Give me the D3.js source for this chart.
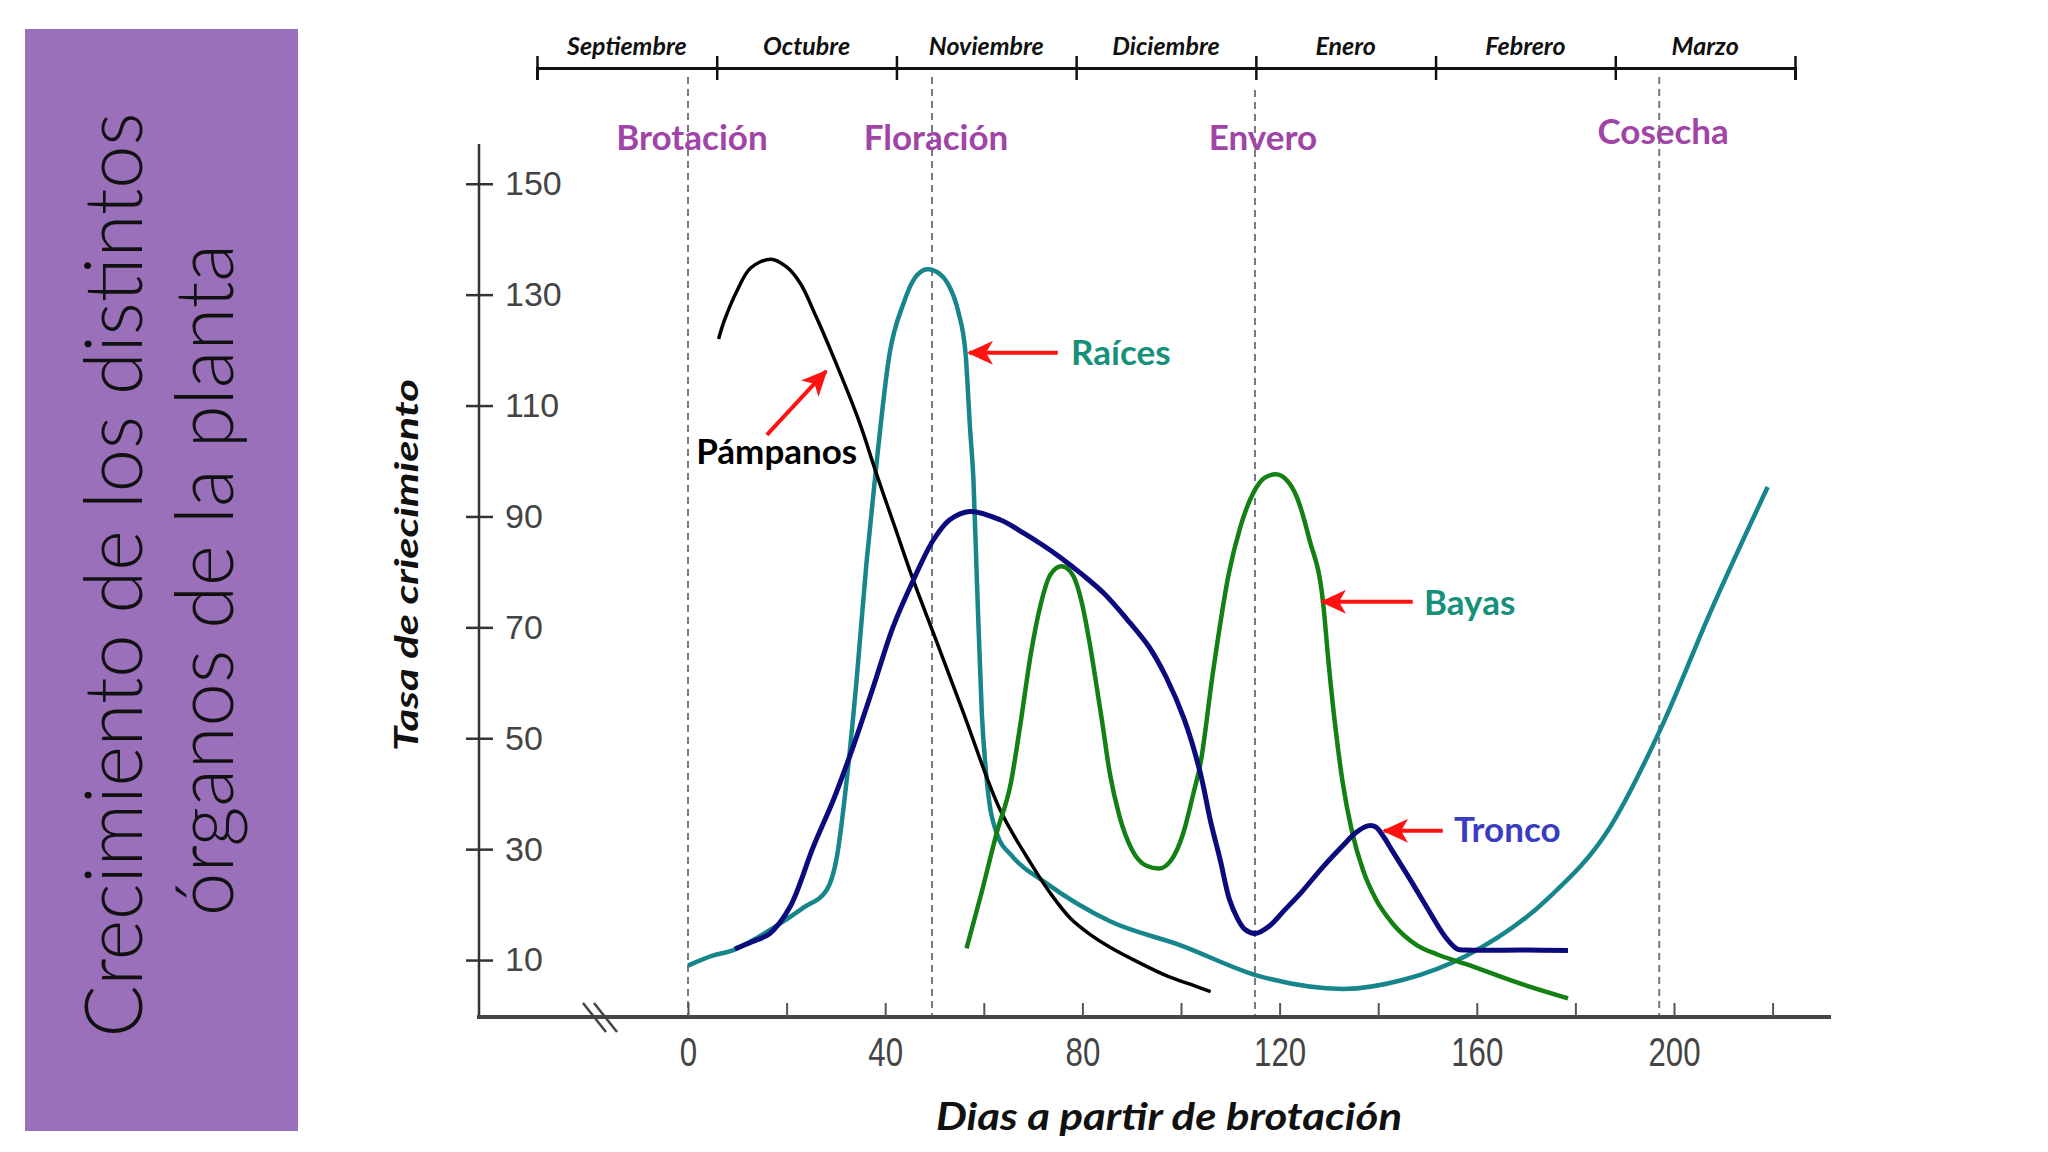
<!DOCTYPE html>
<html lang="es">
<head>
<meta charset="UTF-8">
<script src="https://d3js.org/d3.v7.min.js"></script>
<style>
  body { margin: 0; background: #fff; }
  svg { display: block; }
</style>
</head>
<body>
<script>
  // --- datos ---
  const months = ["Septiembre", "Octubre", "Noviembre", "Diciembre", "Enero", "Febrero", "Marzo"];
  const yTickValues = [10, 30, 50, 70, 90, 110, 130, 150];
  const xTickMarks = [0, 20, 40, 60, 80, 100, 120, 140, 160, 180, 200, 220];
  const xTickLabels = [0, 40, 80, 120, 160, 200];
  const phaseNames = ["Brotación", "Floración", "Envero", "Cosecha"];
  const phaseDays = [0, 49.5, 115, 197];

  // [día, tasa de crecimiento]
  const pampanos = [[6.2, 122], [7.4, 125.4], [10, 130.8], [12.7, 134.8], [16.8, 136.4], [20, 135], [22.8, 132],
    [26, 126], [29.2, 119.4], [34.6, 107.4], [38.3, 97.5], [41.8, 88.5], [45.7, 78.5], [49.8, 68.9],
    [55.9, 54.5], [63.3, 37.1], [69.7, 27.2], [73.7, 21.8], [77.6, 17.5], [81.6, 14.6],
    [85.6, 12.3], [90.9, 9.8], [97.5, 7], [102, 5.6], [106, 4.3]];
  const raices = [[0, 9], [5, 10.8], [9.2, 11.8], [14, 14], [18.7, 16.6], [23.5, 19.5], [28.1, 22.6], [30.2, 28.6],
    [32.2, 42.5], [34.2, 60.5], [36.2, 81.6], [37.9, 96.6], [40.9, 119.4], [43.7, 128.4], [46, 133], [48.6, 134.6],
    [51, 133.8], [52.7, 132], [54.8, 127], [56.3, 119.4], [57.2, 106], [57.9, 96.6], [58.6, 78.5], [59.6, 54.5],
    [60.6, 42.5], [62.6, 32.9], [65.7, 28.8], [72.3, 24.1], [85.6, 17], [99.8, 12.7], [115.5, 7.2],
    [132.9, 4.8], [145.3, 6.5], [157.7, 10.7], [174.3, 21], [186.7, 33.5], [197.5, 52.1], [207.4, 72.8], [219, 95.3]];
  const bayas = [[56.5, 12.1], [59.5, 22], [62.6, 32.9], [65.5, 42], [67.5, 53], [69.5, 65], [71.5, 74], [73.5, 79.5],
    [75.8, 81], [78, 79.5], [80, 74], [81.5, 67], [82.6, 61], [84, 53], [85.5, 44], [87.5, 36], [90, 30],
    [93, 27], [95.5, 26.5], [98, 28], [100.5, 33], [102.5, 40], [103.9, 45.2], [106.5, 62], [109.7, 79.7],
    [112, 88], [114.7, 94.3], [117, 97], [119.2, 97.6], [121.5, 96.5], [123.5, 93.5], [126, 86], [128.8, 74.6],
    [130, 63], [131.3, 52.1], [132.8, 42], [134.6, 33.5], [137, 26], [139.5, 21], [143, 16.5], [147.8, 12.7],
    [152, 11], [157.7, 9.3], [168, 6], [178.5, 3.1]];
  const tronco = [[9.5, 12], [13, 13.3], [16.6, 14.8], [20.7, 19.6], [25.4, 30.4], [29.5, 38.9], [33.5, 48.5],
    [37.6, 59.3], [41.6, 70.1], [45.7, 78.5], [49.8, 85.8], [53.1, 89.4], [57.2, 90.9], [63.3, 89.4],
    [68.1, 87], [72, 84.8], [75.4, 82.7], [80, 79.5], [84.4, 76.1], [89, 71.5], [93.5, 66.5], [97, 61],
    [100.7, 53.3], [103.9, 43.8], [106, 35], [108, 27.9], [109.8, 21], [111.4, 17.6], [113, 15.5], [115.1, 14.8],
    [118, 16.2], [121, 19], [124.6, 22.4], [128.5, 26.5], [132.9, 30.7], [135.5, 33], [137.9, 34.2], [139.5, 34],
    [141.2, 32.1], [143, 29.5], [146.5, 24.5], [150, 19.3], [153.5, 14.3], [156, 12], [158, 11.8], [170, 11.8],
    [178.5, 11.7]];

  // anotaciones (coordenadas en día / tasa)
  const annotLabels = ["Pámpanos", "Raíces", "Bayas", "Tronco"];
  const annotTips = [[28, 116.2], [57, 119.5], [128.6, 74.6], [141.2, 33.3]];
  const annotTails = [[16, 104.7], [75, 119.5], [147, 74.6], [153.1, 33.3]];
  const annotText = [[18, 99.5], [77.7, 117.3], [149.3, 72.3], [155.4, 31.2]];

  const width = 2048, height = 1152;
  const svg = d3.select("body").append("svg")
    .attr("width", width).attr("height", height);

  svg.append("defs").append("marker")
    .attr("id", "arrow")
    .attr("viewBox", "0 0 26 24")
    .attr("markerUnits", "userSpaceOnUse")
    .attr("markerWidth", 26).attr("markerHeight", 24)
    .attr("refX", 24).attr("refY", 12)
    .attr("orient", "auto")
    .append("path")
    .attr("d", "M0,0 L26,12 L0,24 L7,12 Z")
    .attr("fill", "#ff1212");

  // panel del título
  svg.append("rect")
    .attr("x", 25).attr("y", 29).attr("width", 273).attr("height", 1102)
    .attr("fill", "#9b70ba");

  const titleLines = [
    { text: "Crecimiento de los distintos", x: 142, y: 575, len: 925 },
    { text: "órganos de la planta", x: 233, y: 580, len: 672 }
  ];
  svg.selectAll(".title").data(titleLines).enter().append("text")
    .attr("transform", d => `translate(${d.x},${d.y}) rotate(-90)`)
    .attr("text-anchor", "middle")
    .attr("textLength", d => d.len)
    .attr("lengthAdjust", "spacingAndGlyphs")
    .style("font-family", "Lato, 'Open Sans', sans-serif")
    .style("font-weight", 300)
    .style("font-size", "80px")
    .attr("fill", "#111")
    .text(d => d.text);

  // escalas
  const x = d3.scaleLinear().domain([0, 220]).range([688, 1772.6]);
  const y = d3.scaleLinear().domain([0, 150]).range([1015.5, 183.75]);
  const yAxisX = 479;
  const xAxisY = 1017;

  // eje de meses
  const m = d3.scaleLinear().domain([0, months.length]).range([537, 1795]);
  const monthAxis = svg.append("g")
    .attr("transform", "translate(0,68)")
    .call(d3.axisBottom(m).tickValues(d3.range(0, months.length + 1)).tickSize(12).tickFormat(""));
  monthAxis.select(".domain").attr("stroke", "#111").attr("stroke-width", 3);
  monthAxis.selectAll(".tick line").attr("y1", -12).attr("stroke", "#111").attr("stroke-width", 2.5);
  svg.selectAll(".month").data(months).enter().append("text")
    .attr("x", (d, i) => m(i + 0.5))
    .attr("y", 55)
    .attr("text-anchor", "middle")
    .style("font-family", "Lato, sans-serif")
    .style("font-weight", 700).style("font-style", "italic")
    .style("font-size", "25px")
    .attr("fill", "#111")
    .text(d => d);

  // líneas de fases
  svg.selectAll(".phase").data(phaseDays).enter().append("line")
    .attr("x1", d => x(d)).attr("x2", d => x(d))
    .attr("y1", (d, i) => i === 2 ? 90 : 77).attr("y2", xAxisY)
    .attr("stroke", "#7a7a7a").attr("stroke-width", 2)
    .attr("stroke-dasharray", "7,5");
  svg.selectAll(".phaseLabel").data(phaseNames).enter().append("text")
    .attr("x", (d, i) => x(phaseDays[i]) + (i === 2 ? 8 : 4))
    .attr("y", (d, i) => i === 3 ? 144 : 150)
    .attr("text-anchor", "middle")
    .style("font-family", "Lato, sans-serif")
    .style("font-weight", 700)
    .style("font-size", "35px")
    .attr("fill", "#a044a8")
    .text(d => d);

  // eje Y
  svg.append("line")
    .attr("x1", yAxisX).attr("x2", yAxisX).attr("y1", 144).attr("y2", xAxisY)
    .attr("stroke", "#333").attr("stroke-width", 2.5);
  const yAxis = svg.append("g")
    .attr("transform", `translate(${yAxisX},0)`)
    .call(d3.axisRight(y).tickValues(yTickValues).tickSize(14).tickPadding(12));
  yAxis.select(".domain").remove();
  yAxis.selectAll(".tick line").attr("x1", -13).attr("stroke", "#333").attr("stroke-width", 2.5);
  yAxis.selectAll(".tick text")
    .style("font-family", "'Liberation Sans', Arial, sans-serif")
    .style("font-size", "34px")
    .attr("fill", "#444");

  // eje X
  svg.append("line")
    .attr("x1", yAxisX - 2).attr("x2", 1831).attr("y1", xAxisY).attr("y2", xAxisY)
    .attr("stroke", "#444").attr("stroke-width", 4);
  const xAxis = svg.append("g")
    .attr("transform", `translate(0,${xAxisY})`)
    .call(d3.axisBottom(x).tickValues(xTickMarks).tickSize(-14).tickPadding(21)
      .tickFormat(d => xTickLabels.includes(d) ? d : ""));
  xAxis.select(".domain").remove();
  xAxis.selectAll(".tick line").attr("stroke", "#555").attr("stroke-width", 2);
  xAxis.selectAll(".tick text")
    .attr("transform", "scale(0.78,1)")
    .style("font-family", "'Liberation Sans', Arial, sans-serif")
    .style("font-size", "40px")
    .attr("fill", "#444");

  // marca de corte //
  svg.selectAll(".brk").data([0, 11]).enter().append("line")
    .attr("x1", d => 583 + d).attr("y1", 1003)
    .attr("x2", d => 606 + d).attr("y2", 1032)
    .attr("stroke", "#444").attr("stroke-width", 2.5);

  // títulos de ejes
  svg.append("text")
    .attr("transform", "translate(418,565) rotate(-90)")
    .attr("text-anchor", "middle")
    .attr("textLength", 372).attr("lengthAdjust", "spacingAndGlyphs")
    .style("font-family", "Lato, sans-serif")
    .style("font-weight", 700).style("font-style", "italic")
    .style("font-size", "32px")
    .attr("fill", "#111")
    .text("Tasa de criecimiento");
  svg.append("text")
    .attr("x", 1169).attr("y", 1130)
    .attr("text-anchor", "middle")
    .attr("textLength", 466).attr("lengthAdjust", "spacingAndGlyphs")
    .style("font-family", "Lato, sans-serif")
    .style("font-weight", 700).style("font-style", "italic")
    .style("font-size", "38px")
    .attr("fill", "#111")
    .text("Dias a partir de brotación");

  // curvas
  const lineMono = d3.line()
    .x(d => x(d[0]))
    .y(d => y(d[1]))
    .curve(d3.curveMonotoneX);
  const lineSmooth = d3.line()
    .x(d => x(d[0]))
    .y(d => y(d[1]))
    .curve(d3.curveCatmullRom.alpha(0.5));

  const series = [
    { data: raices, color: "#17868c", w: 4.5, gen: lineMono },
    { data: pampanos, color: "#000", w: 3.5, gen: lineSmooth },
    { data: bayas, color: "#128012", w: 4.5, gen: lineMono },
    { data: tronco, color: "#0b0b7d", w: 5, gen: lineSmooth }
  ];
  svg.selectAll(".serie").data(series).enter().append("path")
    .attr("d", d => d.gen(d.data))
    .attr("fill", "none")
    .attr("stroke", d => d.color)
    .attr("stroke-width", d => d.w)
    .attr("stroke-linejoin", "round");

  // flechas y etiquetas
  const annotColors = ["#000", "#15907a", "#15907a", "#3b3bbf"];
  svg.selectAll(".arrow").data(annotTips).enter().append("line")
    .attr("x1", (d, i) => x(annotTails[i][0])).attr("y1", (d, i) => y(annotTails[i][1]))
    .attr("x2", d => x(d[0])).attr("y2", d => y(d[1]))
    .attr("stroke", "#ff1212").attr("stroke-width", 4)
    .attr("marker-end", "url(#arrow)");
  svg.selectAll(".annot").data(annotLabels).enter().append("text")
    .attr("x", (d, i) => x(annotText[i][0]))
    .attr("y", (d, i) => y(annotText[i][1]))
    .attr("text-anchor", (d, i) => i === 0 ? "middle" : "start")
    .style("font-family", "Lato, sans-serif")
    .style("font-weight", 700)
    .style("font-size", "35px")
    .attr("fill", (d, i) => annotColors[i])
    .text(d => d);
</script>
</body>
</html>
